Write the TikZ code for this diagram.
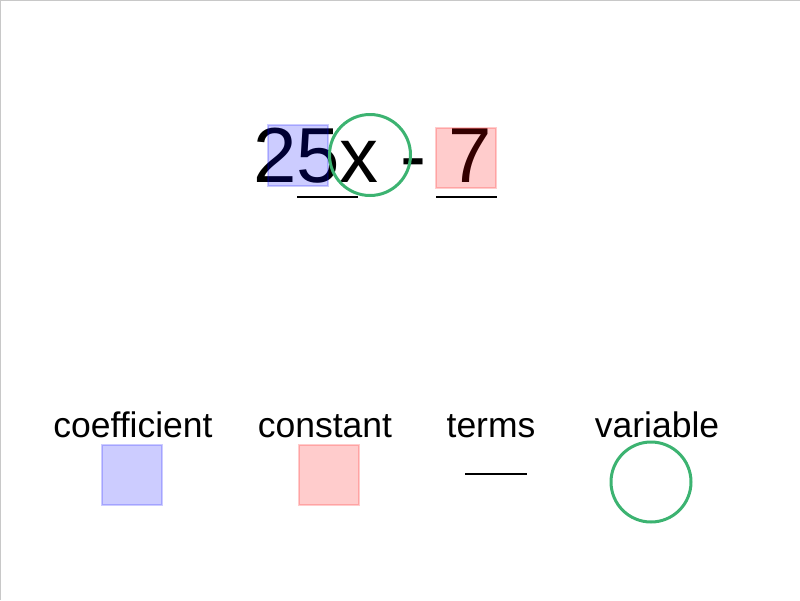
\documentclass[tikz,border=0pt]{standalone}
\usepackage{fontspec}
\setmainfont{Liberation Sans}
\definecolor{coefblue}{RGB}{0,0,255}
\definecolor{constred}{RGB}{255,0,0}
\definecolor{vargreen}{RGB}{60,179,113}
\definecolor{framegray}{RGB}{200,200,200}
\tikzset{
  exprtext/.style={inner sep=0pt, font=\fontsize{78}{90}\selectfont},
  keytext/.style={inner sep=0pt, anchor=base, font=\fontsize{35.5}{40}\selectfont},
  coefbox/.style={draw=coefblue, draw opacity=0.2, fill=coefblue, fill opacity=0.2,
    line width=2pt, minimum size=60pt, inner sep=0pt},
  constbox/.style={draw=constred, draw opacity=0.2, fill=constred, fill opacity=0.2,
    line width=2pt, minimum size=60pt, inner sep=0pt},
  varring/.style={circle, draw=vargreen, line width=3pt, minimum size=80pt, inner sep=0pt},
  termline/.style={line width=2pt}
}
\begin{document}
\begin{tikzpicture}[x=1pt,y=-1pt]
  \useasboundingbox (0,0) rectangle (800,600);
  % Frame
  \draw[framegray] (0.5,600) -- (0.5,0.5) -- (800,0.5);

  % Expression
  \node[exprtext, anchor=base west] (expr) at (253,182) {25x - 7};
  \node[coefbox, minimum width=60pt, minimum height=61pt] (coefmark) at (297.5,155) {};
  \node[constbox] (constmark) at (466,158) {};
  \node[varring, minimum size=81pt] (varmark) at (370,155) {};
  \coordinate (terma1) at (297,197);
  \coordinate (terma2) at (358,197);
  \coordinate (termb1) at (436,197);
  \coordinate (termb2) at (497,197);
  \draw[termline] (terma1) -- (terma2);
  \draw[termline] (termb1) -- (termb2);

  % Key
  \node[keytext] (coeflabel) at (133,437) {coefficient};
  \node[keytext] (constlabel) at (325,437) {constant};
  \node[keytext] (termlabel) at (491,437) {terms};
  \node[keytext] (varlabel) at (657,437) {variable};
  \node[coefbox] (coefkey) at (131.5,475) {};
  \node[constbox] (constkey) at (329,475) {};
  \node[varring] (varkey) at (651,482) {};
  \coordinate (termkey1) at (465,474);
  \coordinate (termkey2) at (527,474);
  \draw[termline] (termkey1) -- (termkey2);
\end{tikzpicture}
\end{document}
